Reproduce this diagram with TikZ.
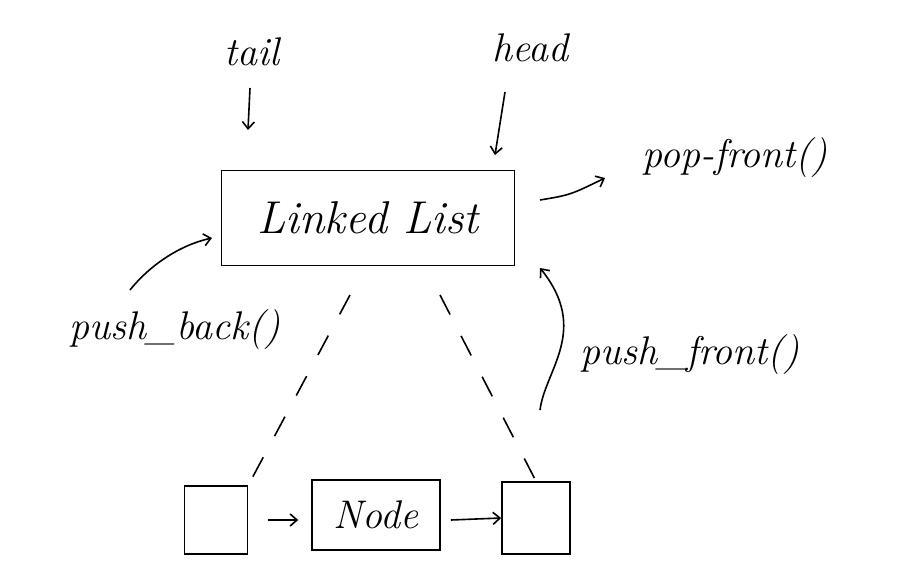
\documentclass[tikz,border=0pt]{standalone}
\usepackage{fontspec}
\usetikzlibrary{arrows.meta}
\begin{document}
\begin{tikzpicture}[x=1pt,y=-1pt,
  hand/.style={line width=1.6pt,black},
  arr/.style={hand,-{Straight Barb[length=7pt,width=12pt]}},
  lbl/.style={font=\fontsize{40}{44}\selectfont\itshape},
  dsh/.style={hand,dash pattern=on 22pt off 24pt}]
\useasboundingbox (0,0) rectangle (905,573);
\node[lbl] (tail) at (252,52) {tail};
\node[lbl] (head) at (530,48) {head};
\node[draw,hand,minimum width=293pt,minimum height=95pt,font=\fontsize{46}{50}\selectfont\itshape] (ll) at (368,218) {Linked List};
\node[lbl] (pop) at (735,158) {pop-front()};
\node[lbl] (pb) at (175,330) {push\_back()};
\node[lbl] (pf) at (690,355) {push\_front()};
\coordinate (ta) at (250,88);
\coordinate (ha) at (505,92);
\draw[arr] (ta) -- (248,130);
\draw[arr] (ha) -- (495,155);
\draw[arr] (540,200) .. controls (570,195) .. (605,178);
\draw[arr] (130,290) .. controls (150,265) and (180,245) .. (212,238);
\draw[arr] (540,410) .. controls (545,370) and (590,330) .. (540,268);
\node[draw,hand,minimum width=63pt,minimum height=68pt] (b1) at (216,520) {};
\node[draw,hand,minimum width=128pt,minimum height=70pt,lbl] (nd) at (376,515) {Node};
\node[draw,hand,minimum width=68pt,minimum height=72pt] (b3) at (536,518) {};
\draw[dsh] (350,295) -- (b1.north east);
\draw[dsh] (440,295) -- (b3.north);
\draw[arr] (b1.east)++(20,0) -- ++(30,0);
\draw[arr] (nd.east)++(10,5) -- (b3.west);
\end{tikzpicture}
\end{document}
